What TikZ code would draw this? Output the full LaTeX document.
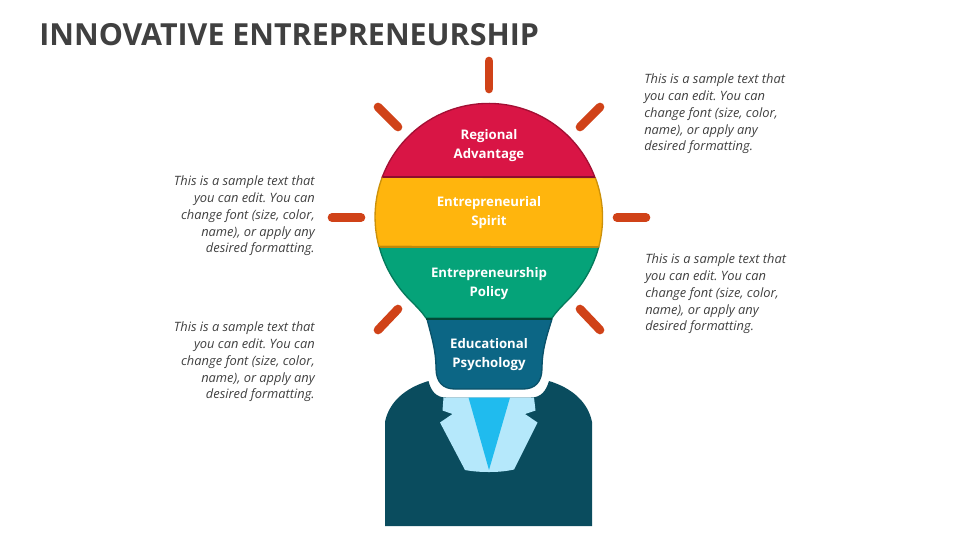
\documentclass[tikz,border=0pt]{standalone}
\usepackage{fontspec}
\setmainfont{Open Sans}
\usepackage{tikz}
\usetikzlibrary{positioning}
\definecolor{redband}{HTML}{D91545}
\definecolor{yellowband}{HTML}{FFB50D}
\definecolor{greenband}{HTML}{05A379}
\definecolor{blueband}{HTML}{0C6685}
\definecolor{suitcol}{HTML}{0A4C5E}
\definecolor{collarcol}{HTML}{B5E8FB}
\definecolor{tiecol}{HTML}{20BBEE}
\definecolor{raycol}{HTML}{D04218}
\definecolor{titlecol}{HTML}{404040}
\tikzset{
  ray/.style={draw=raycol, line width=6.5pt, line cap=round},
  seam/.style={line width=2pt},
  bandlabel/.style={text=white, font=\fontsize{9.9}{14.2}\selectfont\bfseries, align=center},
  sidetext/.style={text=titlecol, font=\fontsize{9.65}{12.6}\selectfont\itshape\frenchspacing, inner sep=0pt},
  sideleft/.style={sidetext, align=right, anchor=east},
  sideright/.style={sidetext, align=left, anchor=west},
}
\begin{document}
\begin{tikzpicture}[x=0.75pt, y=-0.75pt]
      \useasboundingbox (0,0) rectangle (960,540);
      \node[anchor=west, text=titlecol, font=\fontsize{22.8}{27}\selectfont\bfseries, inner sep=0pt] (title) at (39,35) {INNOVATIVE ENTREPRENEURSHIP};
      % rays
      \foreach \xa/\ya/\xb/\yb in {489/61/489/89, 378/107/398/127, 600/107/580/127, 332/217.5/361/217.5, 617/217.5/646/217.5, 398/309/378/330, 580/309/600/330}
        \draw[ray] (\xa,\ya) -- (\xb,\yb);
      % suit
      \fill[suitcol] (385,526) -- (385,422) .. controls (389,402) and (405,388) .. (428.5,381)
        .. controls (431,391) and (436,397.5) .. (446,397.5) -- (531,397.5)
        .. controls (541,397.5) and (546,391) .. (549,381)
        .. controls (572,388) and (588,402) .. (592,422) -- (592,526) -- cycle;
      \fill[collarcol] (443.5,397.5) -- (442.5,410.5) -- (452.5,414) -- (440,422.5) -- (465,470)
        .. controls (473,471.5) and (481,472) .. (489,472)
        .. controls (497,472) and (505,471.5) .. (514,469.5)
        -- (537.5,422.5) -- (525,414) -- (535.5,410.5) -- (534,397.5) -- cycle;
      \fill[tiecol] (468.5,397.5) -- (489,470) -- (510,397.5) -- cycle;
      % bulb
      \draw[blueband!80!black, fill=blueband, line width=1pt] (427,319) .. controls (431,335) and (436,350) .. (436,368)
        .. controls (436,382) and (443,389) .. (455,389) -- (523,389)
        .. controls (535,389) and (542,382) .. (542,368)
        .. controls (542,350) and (547,335) .. (552,319) -- cycle;
      \draw[greenband!75!black, fill=greenband, line width=1pt] (379.3,247) .. controls (386,272) and (400,290) .. (410,300)
        .. controls (417,307) and (422,312) .. (426,318) -- (552,318)
        .. controls (556,312) and (561,307) .. (568,300)
        .. controls (578,290) and (592,272) .. (598.7,247) -- cycle;
      \draw[yellowband!80!black, fill=yellowband, line width=1pt] (382.3,177) arc[start angle=200.6, end angle=165, radius=113.5] -- (598.7,247) arc[start angle=15, end angle=-20.6, radius=113.5] -- cycle;
      \draw[redband!75!black, fill=redband, line width=1pt] (382.3,177) arc[start angle=200.6, end angle=339.4, radius=113.5] -- cycle;
      % seams
      \draw[seam, greenband!45!black] (426,319) -- (552,319);
      \draw[seam, yellowband!75!black] (380,247) -- (598,247);
      \draw[seam, redband!65!black] (382.5,177) -- (595,177);
      % labels
      \node[bandlabel] (regional) at (489,146) {Regional\\Advantage};
      \node[bandlabel] (spirit) at (489,213) {Entrepreneurial\\Spirit};
      \node[bandlabel] (policy) at (489,284) {Entrepreneurship\\Policy};
      \node[bandlabel] (psych) at (489,355) {Educational\\Psychology};
      % side texts
      \node[sideleft] (leftup) at (315,216) {This is a sample text that\\you can edit. You can\\change font (size, color,\\name), or apply any\\desired formatting.};
      \node[sideleft] (leftdown) at (315,362) {This is a sample text that\\you can edit. You can\\change font (size, color,\\name), or apply any\\desired formatting.};
      \node[sideright] (rightup) at (644,114) {This is a sample text that\\you can edit. You can\\change font (size, color,\\name), or apply any\\desired formatting.};
      \node[sideright] (rightdown) at (645,294) {This is a sample text that\\you can edit. You can\\change font (size, color,\\name), or apply any\\desired formatting.};
    \end{tikzpicture}
\end{document}
